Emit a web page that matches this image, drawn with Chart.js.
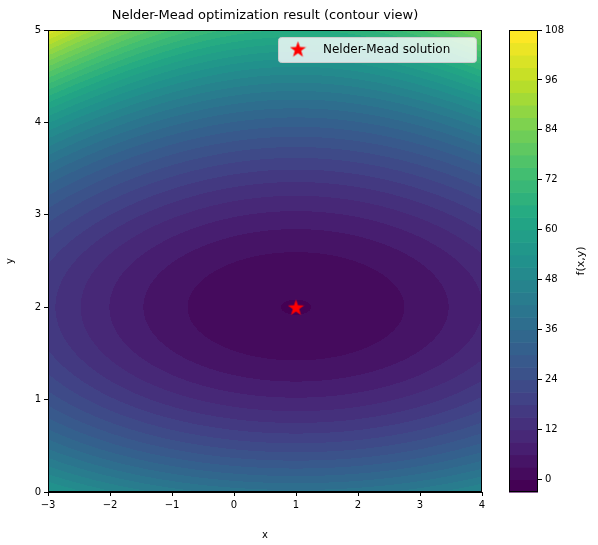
<!DOCTYPE html>
<html><head><meta charset="utf-8">
<script src="https://cdn.jsdelivr.net/npm/chart.js@4.4.0/dist/chart.umd.min.js"></script>
<style>html,body{margin:0;padding:0;background:#fff;}#wrap{position:relative;width:598px;height:545px;}
canvas{position:absolute;left:0;top:0;}</style></head>
<body><div id="wrap"><canvas id="c1" width="598" height="545"></canvas><canvas id="c2" width="598" height="545" style="pointer-events:none"></canvas></div>
<script>
// ---- data ----
const solutionX = [1];
const solutionY = [2];
const xTicks = [-3,-2,-1,0,1,2,3,4];
const yTicks = [0,1,2,3,4,5];
const cbTicks = [0,12,24,36,48,60,72,84,96,108];
const levels = [-3,0,3,6,9,12,15,18,21,24,27,30,33,36,39,42,45,48,51,54,57,60,63,66,69,72,75,78,81,84,87,90,93,96,99,102,105,108];
// surface coefficients: f = (x-1)^2*(1+a2*(y-2)^2+a3*(y-2)^3) + b2*(y-2)^2 + b3*(y-2)^3 + c
const centre = [1, 2];
const xMult = [0.05, 0.03];
const yCoef = [8.93, -0.533];
const fMin = [-0.06];

const viridis = ['#440154','#482475','#414487','#355f8d','#2a788e','#21918c','#22a884','#44bf70','#7ad151','#bddf26','#fde725'];
function hex(h){return [parseInt(h.slice(1,3),16),parseInt(h.slice(3,5),16),parseInt(h.slice(5,7),16)];}
const vir = viridis.map(hex);
function cmap(t){t=Math.max(0,Math.min(1,t));const s=t*10;const i=Math.min(9,Math.floor(s));const f=s-i;
  return [0,1,2].map(k=>Math.round(vir[i][k]+(vir[i+1][k]-vir[i][k])*f));}
const nb = levels.length-1;
const bandCols = []; for(let i=0;i<nb;i++) bandCols.push(cmap(i/(nb-1)));
function fval(x,y){const dx=x-centre[0], dy=y-centre[1];
  return dx*dx*(1+xMult[0]*dy*dy+xMult[1]*dy*dy*dy)+yCoef[0]*dy*dy+yCoef[1]*dy*dy*dy+fMin[0];}
function band(v){for(let i=nb-1;i>=0;i--){if(v>=levels[i])return Math.min(i,nb-1);}return 0;}

const FONT='DejaVu Sans';
Chart.defaults.font.family=FONT; Chart.defaults.color='#000';

// star marker
function makeStar(size){const c=document.createElement('canvas');c.width=size;c.height=size;const g=c.getContext('2d');
  g.fillStyle='#ff0000';g.beginPath();const R=size/2,r=R*0.4,cx=size/2,cy=size/2+0.8;
  for(let i=0;i<10;i++){const a=-Math.PI/2+i*Math.PI/5;const rr=i%2?r:R;g.lineTo(cx+rr*Math.cos(a),cy+rr*Math.sin(a));}
  g.closePath();g.fill();return c;}
const star=makeStar(17);

const contourPlugin={id:'contour',
 beforeDatasetsDraw(chart){const ctx=chart.ctx,a=chart.chartArea,xs=chart.scales.x,ys=chart.scales.y;
  const L=Math.round(a.left),T=Math.round(a.top),W=Math.round(a.right)-L,H=Math.round(a.bottom)-T;
  const img=ctx.createImageData(W,H);
  for(let j=0;j<H;j++){const yv=ys.getValueForPixel(T+j+0.5);
   for(let i=0;i<W;i++){const xv=xs.getValueForPixel(L+i+0.5);const c=bandCols[band(fval(xv,yv))];const o=(j*W+i)*4;
    img.data[o]=c[0];img.data[o+1]=c[1];img.data[o+2]=c[2];img.data[o+3]=255;}}
  ctx.putImageData(img,L,T);
  ctx.save();ctx.strokeStyle='#000';ctx.lineWidth=1;ctx.strokeRect(L+0.5,T+0.5,W-1,H-1);ctx.restore();},
 afterDraw(chart){const ctx=chart.ctx,a=chart.chartArea;ctx.save();
  ctx.font='13px '+FONT;ctx.textAlign='center';ctx.textBaseline='middle';ctx.fillStyle='#000';
  ctx.fillText('Nelder-Mead optimization result (contour view)',(a.left+a.right)/2,16);
  // legend
  const lx=278,ly=37,lw=198,lh=25;ctx.fillStyle='rgba(255,255,255,0.8)';ctx.strokeStyle='#cccccc';
  ctx.beginPath();ctx.roundRect(lx+0.5,ly+0.5,lw,lh,3);ctx.fill();ctx.stroke();
  ctx.drawImage(star,298-8.5,49-8.5);
  ctx.fillStyle='#000';ctx.font='12px '+FONT;ctx.textAlign='left';ctx.fillText('Nelder-Mead solution',323,49.5);
  ctx.restore();}};

new Chart(document.getElementById('c1'),{type:'scatter',
 data:{datasets:[{label:'Nelder-Mead solution',data:solutionX.map((x,i)=>({x,y:solutionY[i]})),pointStyle:star,pointRadius:8,pointHoverRadius:8}]},
 options:{responsive:false,animation:false,devicePixelRatio:1,
  layout:{padding:{top:30,right:116,left:0,bottom:0}},
  plugins:{legend:{display:false},tooltip:{enabled:false}},
  scales:{
   x:{type:'linear',min:-3,max:4,afterBuildTicks(s){s.ticks=xTicks.map(v=>({value:v}));},
     afterFit(s){s.height=53;},
     ticks:{font:{size:10},padding:3,maxRotation:0,callback:v=>String(v).replace('-','\u2212')},
     grid:{display:true,drawOnChartArea:false,tickLength:4,color:'#000'},border:{display:true,color:'#000'},
     title:{display:true,text:'x',font:{size:10},padding:{top:2}}},
   y:{type:'linear',min:0,max:5,afterBuildTicks(s){s.ticks=yTicks.map(v=>({value:v}));},
     afterFit(s){s.width=48;},
     ticks:{font:{size:10},padding:3},
     grid:{display:true,drawOnChartArea:false,tickLength:4,color:'#000'},border:{display:true,color:'#000'},
     title:{display:true,text:'y',font:{size:10},padding:{bottom:4}}}}},
 plugins:[contourPlugin]});

// colorbar
const cbPlugin={id:'cb',beforeDatasetsDraw(chart){const ctx=chart.ctx,a=chart.chartArea,ys=chart.scales.y;ctx.save();
  for(let i=0;i<nb;i++){const y0=ys.getPixelForValue(levels[i]),y1=ys.getPixelForValue(levels[i+1]);const c=bandCols[i];
   ctx.fillStyle=`rgb(${c[0]},${c[1]},${c[2]})`;ctx.fillRect(a.left,y1,a.right-a.left,y0-y1+0.6);}
  ctx.strokeStyle='#000';ctx.lineWidth=1;ctx.strokeRect(Math.round(a.left)+0.5,Math.round(a.top)+0.5,Math.round(a.right-a.left)-1,Math.round(a.bottom-a.top)-1);
  ctx.translate(581,(a.top+a.bottom)/2);ctx.rotate(-Math.PI/2);ctx.font='11px '+FONT;ctx.fillStyle='#000';ctx.textAlign='center';ctx.textBaseline='middle';
  ctx.fillText('f(x,y)',0,0);ctx.restore();}};
new Chart(document.getElementById('c2'),{type:'scatter',
 data:{datasets:[{data:[]}]},
 options:{responsive:false,animation:false,devicePixelRatio:1,
  layout:{padding:{top:30,left:509,right:0,bottom:53}},
  plugins:{legend:{display:false},tooltip:{enabled:false}},
  scales:{x:{display:false,min:0,max:1},
   y:{position:'right',min:levels[0],max:levels[levels.length-1],afterBuildTicks(s){s.ticks=cbTicks.map(v=>({value:v}));},
    afterFit(s){s.width=60;},ticks:{font:{size:10},padding:3},
    grid:{display:true,drawOnChartArea:false,tickLength:4,color:'#000'},border:{display:false}}}},
 plugins:[cbPlugin]});
</script></body></html>
